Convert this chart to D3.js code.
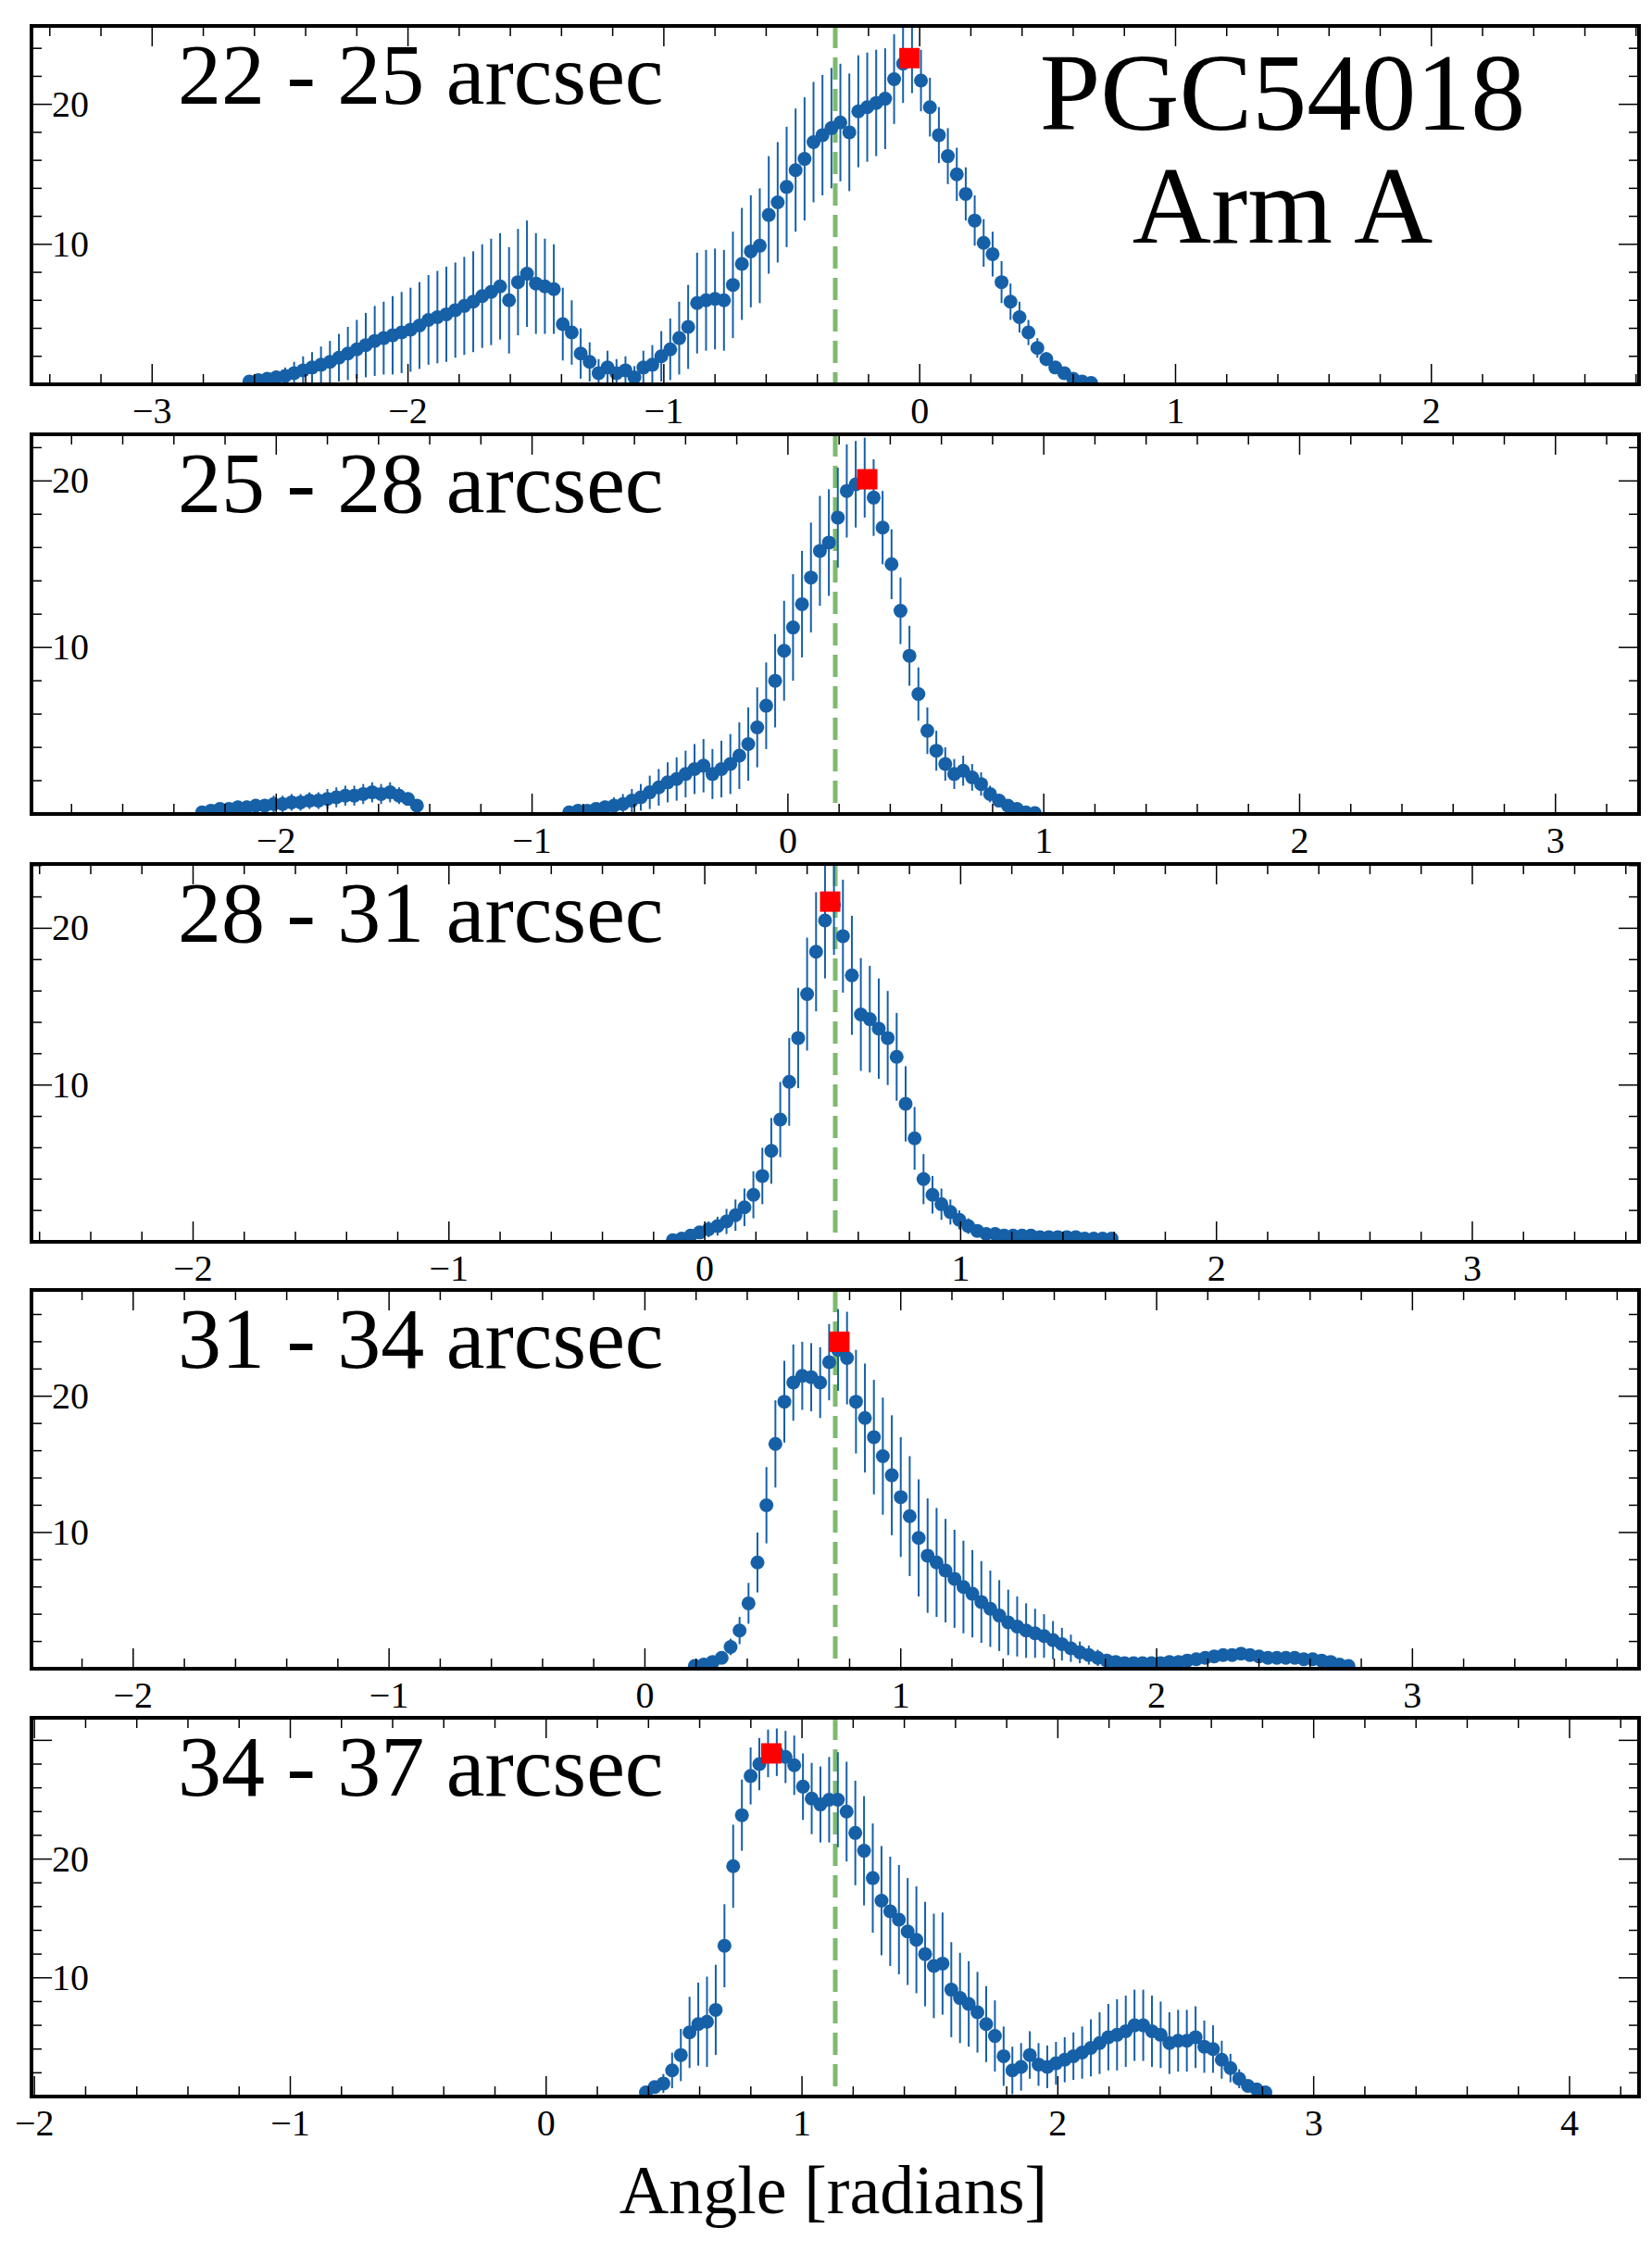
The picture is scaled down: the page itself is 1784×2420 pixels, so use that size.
<!DOCTYPE html>
<html>
<head>
<meta charset="utf-8">
<script src="https://cdn.jsdelivr.net/npm/d3@7"></script>
<style>
  body { margin: 0; background: #fff; }
  text { font-family: 'Liberation Serif', 'DejaVu Serif', serif; fill: #000; }
</style>
</head>
<body>
<div id="chart"></div>
<script>
// panel labels and centre angle (green dashed line), radians
const panelLabels = ['22 - 25 arcsec', '25 - 28 arcsec', '28 - 31 arcsec', '31 - 34 arcsec', '34 - 37 arcsec'];
const centreAngles = [-0.33, 0.185, 0.51, 0.744, 1.13];
const yMax = [25.6, 22.8, 24.1, 27.8, 31.9];
const startAngles = [-2.62, -2.29, -0.125, 0.195, 0.39];
const angleSteps = [0.035, 0.035, 0.035, 0.035, 0.0341];
// red square (peak) per panel: angle, value
const peakAngles = [-0.04, 0.31, 0.49, 0.76, 0.88];
const peakValues = [23.3, 20.1, 21.7, 24.0, 28.9];

const values1 = [0.2,0.3,0.4,0.5,0.6,0.8,1.0,1.2,1.4,1.6,1.9,2.2,2.5,2.8,3.1,3.3,3.5,3.7,3.9,4.2,4.6,4.8,5.0,5.3,5.6,5.9,6.3,6.6,7.0,
  6.0,7.3,7.9,7.2,7.0,6.8,4.3,3.7,2.2,1.6, 0.8,1.2,0.8,1.0,0.5,1.2,1.4,2.0,2.5,3.3, 4.1,5.8,6.0,6.1,6.0,7.1,8.6,9.5,9.9,12.1,
  13.0,14.1,15.3,16.1,17.3,17.8,18.3,18.7,18.0,19.5, 19.8,20.1,20.4,21.8,22.9,23.2,21.7,19.8,17.8,16.3,
  15.0,13.6,11.7,10.1,9.3,7.3,5.9,4.8,3.7,2.6, 1.8,1.2,0.8,0.4,0.2,0.1];
const errors1 = [0.2,0.3,0.4,0.5,0.6,0.8,1.0,1.1,1.3,1.5,1.7,1.9,2.1,2.3,2.5,2.6,2.8,2.9,3.0,3.1,3.2,3.3,3.4,3.4,3.5,3.6,3.7,3.8,3.8,
  3.8,3.8,3.8,3.6,3.4,3.2,2.6,2.3,1.8,1.4, 1.0,1.2,1.0,1.0,0.8,1.2,1.4,1.8,2.2,2.6, 3.0,3.6,3.6,3.6,3.6,3.8,4.0,4.0,4.1,4.2,
  4.3,4.3,4.4,4.4,4.3,4.3,4.3,4.2,4.2,4.0, 3.9,3.8,3.6,3.2,2.8,2.4,2.2,2.1,2.0,2.0,
  1.9,1.9,1.8,1.7,1.6,1.5,1.3,1.1,0.9,0.7, 0.5,0.4,0.3,0.2,0.1,0.1];

const values2 = [0.1,0.2,0.3,0.3,0.4,0.4,0.5,0.5,0.6,0.6,0.7,0.7,0.8,0.8,0.9,1.0,1.1,1.1,1.2,1.3,1.2,1.3,1.1,0.9,0.5,
  null,null,null,null,null,null,null,null,null,null,null,null,null,null,null,null,
  0.1,0.2,0.2,0.3,0.4,0.5,0.6,0.8,1.0,1.3, 1.6,1.9,2.1,2.4,2.7,2.9,2.4,2.7,3.0,3.5,
  4.2,5.2,6.5,8.0,9.8,11.2,12.6,14.2,15.8,16.3, 17.8,19.4,19.8,20.2,19.0,17.2,15.0,12.2,9.5,7.2,
  5.0,3.8,3.0,2.4,2.6,2.2,1.8,1.2,0.8,0.5, 0.3,0.1,0.05];
const errors2 = [0.2,0.3,0.3,0.3,0.4,0.4,0.4,0.4,0.5,0.5,0.5,0.5,0.5,0.5,0.6,0.6,0.6,0.6,0.6,0.6,0.6,0.6,0.5,0.4,0.3,
  null,null,null,null,null,null,null,null,null,null,null,null,null,null,null,null,
  0.1,0.2,0.2,0.3,0.4,0.5,0.6,0.7,0.8,1.0, 1.1,1.2,1.3,1.4,1.5,1.6,1.5,1.7,1.8,2.0,
  2.2,2.4,2.6,2.8,3.0,3.2,3.2,3.3,3.3,3.2, 3.0,2.8,2.6,2.4,2.3,2.2,2.1,2.0,1.8,1.6,
  1.4,1.2,1.0,0.9,0.9,0.8,0.7,0.5,0.4,0.3, 0.2,0.1,0.05];

const values3 = [0.1,0.2,0.4,0.6,0.8,1.0,1.3,1.7,2.2,3.0, 4.2,5.8,7.8,10.2,13.0,15.8,18.5,20.5,21.5,19.5,
  17.0,14.5,14.2,13.6,13.0,11.8,8.8,6.6,4.0,3.0, 2.4,1.9,1.4,1.0,0.7,0.5,0.5,0.4,0.4,0.4,
  0.4,0.3,0.3,0.3,0.3,0.3,0.2,0.2,0.2,0.2];
const errors3 = [0.1,0.2,0.3,0.4,0.5,0.6,0.8,1.0,1.2,1.5, 1.8,2.1,2.4,2.8,3.2,3.6,3.8,3.7,3.2,3.6,
  3.8,3.6,3.4,3.2,3.0,2.8,2.4,2.0,1.6,1.2, 1.0,0.8,0.6,0.5,0.4,0.3,0.3,0.2,0.2,0.2,
  0.2,0.2,0.2,0.2,0.2,0.2,0.1,0.1,0.1,0.1];

const values4 = [0.2,0.3,0.5,0.8,1.6,2.8,4.8,7.8,12.0,16.5, 19.6,21.0,21.5,21.4,21.0,22.5,23.4,22.8,19.6,18.4,
  17.0,15.6,14.2,12.6,11.2,9.6,8.3,7.8,7.2,6.6, 6.0,5.5,4.9,4.4,3.9,3.4,3.1,2.8,2.6,2.4,
  2.1,1.8,1.5,1.2,1.0,0.8,0.6,0.5,0.4,0.4, 0.4,0.4,0.4,0.5,0.5,0.6,0.7,0.8,0.9,1.0,
  1.0,1.1,1.0,0.9,0.8,0.8,0.8,0.8,0.7,0.7, 0.6,0.5,0.3,0.2];
const errors4 = [0.1,0.2,0.3,0.4,0.6,1.0,1.5,2.2,2.8,3.2, 3.0,2.8,2.5,2.5,2.6,2.8,3.0,3.4,3.8,4.0,
  4.2,4.3,4.4,4.4,4.4,4.3,4.2,4.0,3.8,3.6, 3.4,3.2,3.0,2.8,2.6,2.4,2.2,2.0,1.8,1.6,
  1.4,1.2,1.0,0.8,0.7,0.6,0.5,0.4,0.3,0.3, 0.3,0.3,0.3,0.3,0.3,0.3,0.3,0.4,0.4,0.4,
  0.4,0.4,0.4,0.4,0.3,0.3,0.3,0.3,0.3,0.3, 0.2,0.2,0.1,0.1];

const values5 = [0.35,0.8,1.1,2.2,3.5,5.4,6.1,6.3,7.3,12.7, 19.4,23.7,27.0,28.0,28.9,29.0,28.6,27.9,26.1,25.1,
  24.6,25.0,25.0,24.0,22.2,20.7,18.4,16.5,15.6,14.9, 13.9,13.2,12.0,11.0,11.2,9.0,8.3,7.8,7.1,6.1,
  5.1,3.4,2.2,2.5,3.5,2.7,2.5,2.8,3.1,3.4, 3.7,4.1,4.5,5.0,5.2,5.5,6.0,6.0,5.5,5.2,
  4.5,4.7,4.7,5.0,4.2,4.0,3.1,2.4,1.5,0.9, 0.6,0.35];
const errors5 = [0.2,0.5,0.8,1.5,2.2,3.0,3.5,3.8,3.8,3.5, 3.5,3.0,2.4,2.2,2.0,2.0,2.2,2.5,2.8,3.0,
  3.2,3.6,4.0,4.2,4.4,4.6,4.6,4.6,4.6,4.6, 4.5,4.5,4.4,4.4,4.3,4.0,3.8,3.6,3.4,3.2,
  3.0,2.5,2.0,2.0,2.0,1.8,1.8,1.8,1.9,2.0, 2.2,2.4,2.6,2.8,3.0,3.0,3.0,3.0,3.0,2.8,
  2.6,2.6,2.6,2.6,2.2,2.0,1.6,1.2,0.8,0.5, 0.3,0.2];

const allValues = [values1, values2, values3, values4, values5];
const allErrors = [errors1, errors2, errors3, errors4, errors5];

const W = 1784, H = 2420;
const left = 34, right = 1770;
const panelTops = [28, 469, 933, 1393, 1855];
const panelBottoms = [415, 879, 1341, 1802, 2264];
const blue = '#1660a8';

const svg = d3.select('#chart').append('svg')
  .attr('width', W).attr('height', H);

panelLabels.forEach(function (label, p) {
  const top = panelTops[p], bottom = panelBottoms[p];
  const c = centreAngles[p];
  const x = d3.scaleLinear().domain([c - Math.PI, c + Math.PI]).range([left, right]);
  const y = d3.scaleLinear().domain([0, yMax[p]]).range([bottom, top]);
  const g = svg.append('g');

  g.append('defs').append('clipPath').attr('id', 'clip' + p)
    .append('rect').attr('x', left).attr('y', top).attr('width', right - left).attr('height', bottom - top);

  const pts = allValues[p].map(function (v, i) {
    return { a: startAngles[p] + i * angleSteps[p], v: v, e: allErrors[p][i] };
  }).filter(function (d) { return d.v !== null; });

  const plot = g.append('g').attr('clip-path', 'url(#clip' + p + ')');

  // dashed centre line
  plot.append('line')
    .attr('x1', x(c)).attr('x2', x(c)).attr('y1', top).attr('y2', bottom)
    .attr('stroke', '#7dba6f').attr('stroke-width', 5).attr('stroke-dasharray', '24,10');

  // error bars
  plot.selectAll('line.err').data(pts).enter().append('line')
    .attr('class', 'err')
    .attr('x1', d => x(d.a)).attr('x2', d => x(d.a))
    .attr('y1', d => y(d.v - d.e)).attr('y2', d => y(d.v + d.e))
    .attr('stroke', blue).attr('stroke-width', 2);

  plot.selectAll('circle').data(pts).enter().append('circle')
    .attr('cx', d => x(d.a)).attr('cy', d => y(d.v)).attr('r', 7.5)
    .attr('fill', blue);

  plot.append('rect')
    .attr('x', x(peakAngles[p]) - 11).attr('y', y(peakValues[p]) - 11)
    .attr('width', 22).attr('height', 22).attr('fill', '#ff0000');

  // ticks, inward on all sides
  const xMajor = d3.range(Math.ceil(c - Math.PI), c + Math.PI, 1);
  const xMinor = d3.range(Math.ceil((c - Math.PI) * 5) / 5, c + Math.PI, 0.2);
  const ticks = g.append('g').attr('stroke', '#000').attr('stroke-width', 1.5);
  xMinor.forEach(function (t) {
    const major = Math.abs(t - Math.round(t)) < 1e-6;
    const len = major ? 22 : 11;
    ticks.append('line').attr('x1', x(t)).attr('x2', x(t)).attr('y1', bottom).attr('y2', bottom - len);
    ticks.append('line').attr('x1', x(t)).attr('x2', x(t)).attr('y1', top).attr('y2', top + len);
  });
  d3.range(2, yMax[p], 2).forEach(function (t) {
    const len = t % 10 === 0 ? 22 : 11;
    ticks.append('line').attr('x1', left).attr('x2', left + len).attr('y1', y(t)).attr('y2', y(t));
    ticks.append('line').attr('x1', right).attr('x2', right - len).attr('y1', y(t)).attr('y2', y(t));
  });

  g.selectAll('text.xt').data(xMajor).enter().append('text')
    .attr('x', d => x(d)).attr('y', bottom + 42)
    .attr('text-anchor', 'middle').attr('font-size', 40)
    .text(d => d < 0 ? '\u2212' + Math.abs(d) : d);

  g.selectAll('text.yt').data([10, 20]).enter().append('text')
    .attr('x', left + 22).attr('y', d => y(d) + 13)
    .attr('font-size', 40)
    .text(d => d);

  g.append('rect')
    .attr('x', left).attr('y', top).attr('width', right - left).attr('height', bottom - top)
    .attr('fill', 'none').attr('stroke', '#000').attr('stroke-width', 4);

  g.append('text')
    .attr('x', 192).attr('y', top + 84)
    .attr('font-size', 94)
    .text(label);
});

svg.append('text').attr('x', 1385).attr('y', 140).attr('text-anchor', 'middle')
  .attr('font-size', 118).text('PGC54018');
svg.append('text').attr('x', 1385).attr('y', 262).attr('text-anchor', 'middle')
  .attr('font-size', 118).text('Arm A');

svg.append('text').attr('x', 900).attr('y', 2390).attr('text-anchor', 'middle')
  .attr('font-size', 74).text('Angle [radians]');
</script>
</body>
</html>
